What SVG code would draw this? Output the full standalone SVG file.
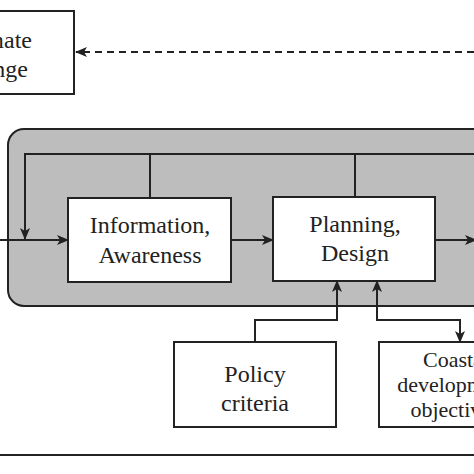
<svg xmlns="http://www.w3.org/2000/svg" width="474" height="474" viewBox="0 0 474 474">
<style>
.box{fill:#fff;stroke:#222;stroke-width:2}
.ln{fill:none;stroke:#222;stroke-width:2}
.t{font-family:"Liberation Serif",serif;font-size:24px;fill:#222;text-anchor:middle}
</style>
<defs>
<marker id="ah" viewBox="0 0 12 10" refX="11" refY="5" markerWidth="12" markerHeight="10" markerUnits="userSpaceOnUse" orient="auto-start-reverse">
<path d="M0,0 L12,5 L0,10 L3,5 z" fill="#222"/>
</marker>
</defs>
<rect width="474" height="474" fill="#fff"/>
<g id="system">
<rect x="8" y="129" width="520" height="177" rx="16" fill="#bdbdbd" stroke="#222" stroke-width="2"/>
</g>
<g id="connectors">
<line class="ln" x1="474" y1="52" x2="76" y2="52" stroke-dasharray="7,5" marker-end="url(#ah)"/>
<polyline class="ln" points="474,154 25,154 25,239" marker-end="url(#ah)"/>
<line class="ln" x1="150" y1="154" x2="150" y2="198"/>
<line class="ln" x1="355" y1="154" x2="355" y2="197"/>
<line class="ln" x1="0" y1="240" x2="68" y2="240" marker-end="url(#ah)"/>
<line class="ln" x1="231" y1="240" x2="273" y2="240" marker-end="url(#ah)"/>
<line class="ln" x1="435" y1="240" x2="476" y2="240" marker-end="url(#ah)"/>
<polyline class="ln" points="255,342 255,320 337,320 337,281" marker-end="url(#ah)"/>
<polyline class="ln" points="377,281 377,320 460,320 460,342" marker-start="url(#ah)" marker-end="url(#ah)"/>
<line class="ln" x1="0" y1="455" x2="474" y2="455"/>
</g>
<g id="climate">
<rect class="box" x="-120" y="11" width="194" height="83"/>
<text class="t" x="32" y="48" style="text-anchor:end">Climate</text>
<text class="t" x="28" y="77" style="text-anchor:end">change</text>
</g>
<g id="information">
<rect class="box" x="68" y="198" width="163" height="84"/>
<text class="t" x="150" y="233">Information,</text>
<text class="t" x="150" y="263">Awareness</text>
</g>
<g id="planning">
<rect class="box" x="273" y="197" width="162" height="84"/>
<text class="t" x="355" y="232">Planning,</text>
<text class="t" x="355" y="261">Design</text>
</g>
<g id="policy">
<rect class="box" x="174" y="342" width="162" height="85"/>
<text class="t" x="255" y="382">Policy</text>
<text class="t" x="255" y="411">criteria</text>
</g>
<g id="coastal">
<rect class="box" x="379" y="342" width="160" height="85"/>
<text class="t" x="456" y="367" style="font-size:22px">Coastal</text>
<text class="t" x="454" y="392" style="font-size:22px">development</text>
<text class="t" x="455" y="417" style="font-size:22px">objectives</text>
</g>
</svg>
